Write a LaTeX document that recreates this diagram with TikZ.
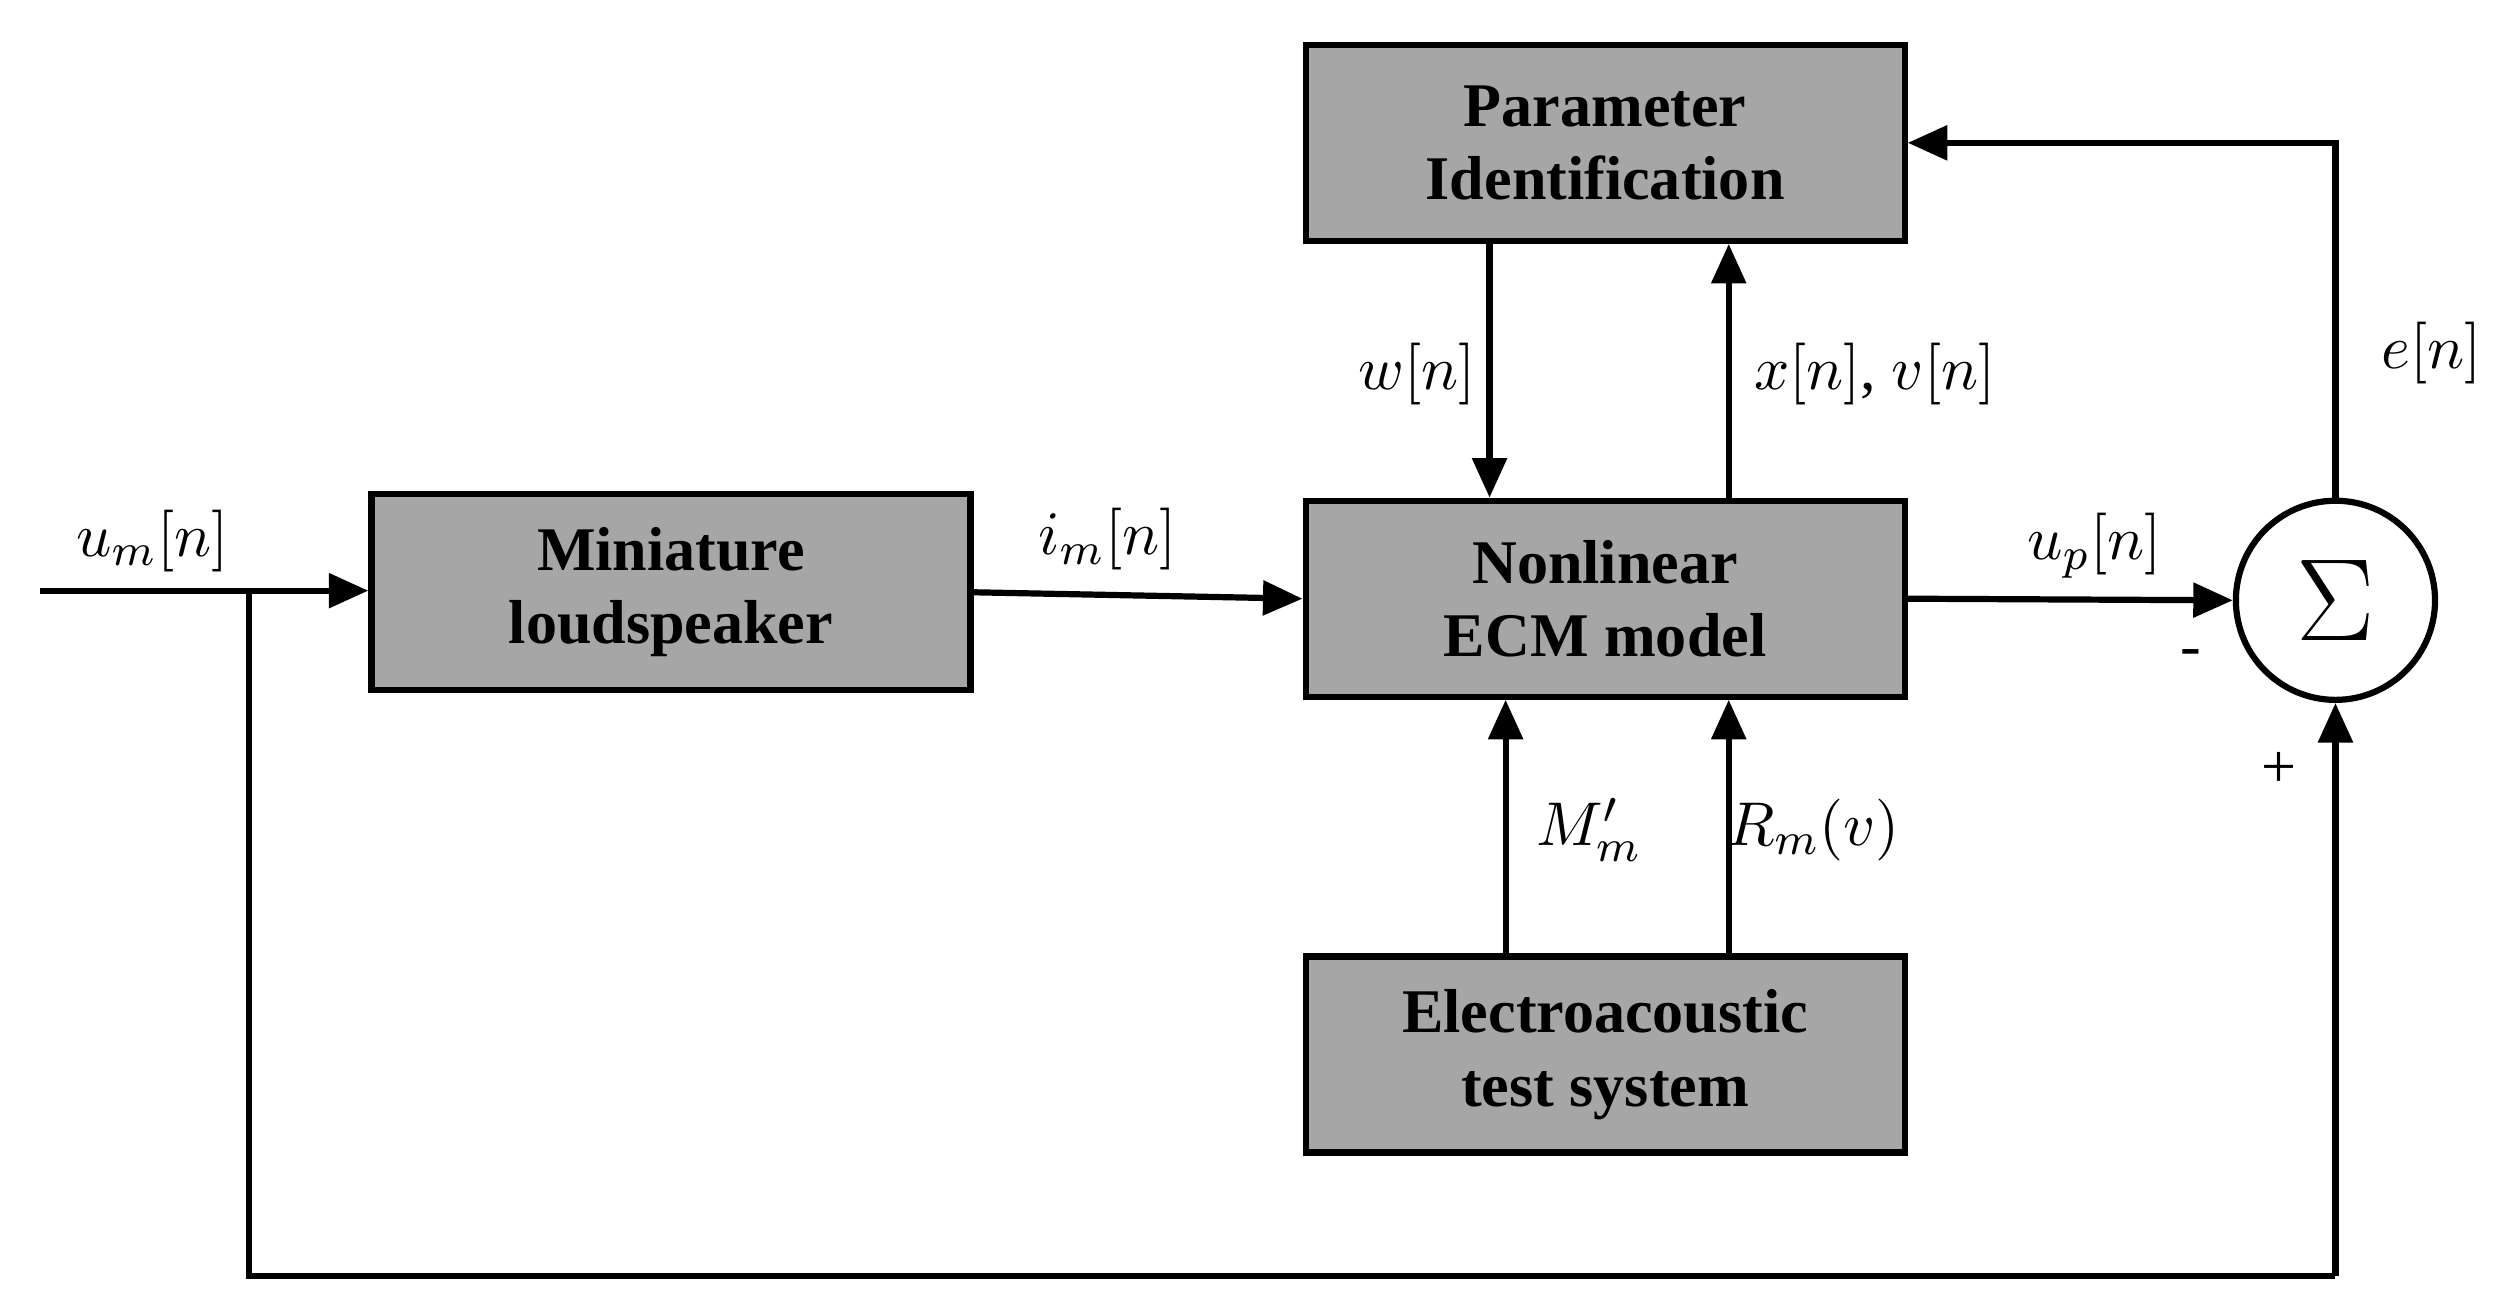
\documentclass[tikz,border=0pt]{standalone}
\usepackage{fontspec}
\setmainfont{Liberation Serif}
\usetikzlibrary{arrows.meta}
\begin{document}
\begin{tikzpicture}[x=0.01cm,y=-0.01cm,
  box/.style={draw, line width=1.1pt, fill=black!35, minimum width=3.73cm, minimum height=1.22cm, align=center, font=\fontsize{11}{13}\selectfont\bfseries},
  arrow/.style={line width=1.1pt, -{Triangle[length=7pt,width=6pt]}},
  line/.style={line width=1.1pt},
  lbl/.style={font=\fontsize{11}{13}\selectfont}]
\useasboundingbox (0,0) rectangle (1560,816);
\node[box] (pid) at (1000,89) {Parameter\\Identification};
\node[box] (mini) at (418,369) {Miniature\\loudspeaker};
\node[box] (ecm) at (1000,373) {Nonlinear\\ECM model};
\node[box] (test) at (1000,657) {Electroacoustic\\test system};
\node[draw, circle, line width=1.1pt, minimum size=1.24cm, inner sep=0pt, font=\fontsize{22}{22}\selectfont] (sum) at (1455,374) {$\Sigma$};
\coordinate (in) at (25,368);
\coordinate (br) at (155,368);
\draw[arrow] (in) -- (mini.west |- in);
\draw[line] (br) -- (155,795) -- (sum.south |- 0,795);
\draw[arrow] (sum.south |- 0,795) -- (sum.south);
\draw[arrow] (mini.east) -- (ecm.west);
\draw[arrow] (ecm.east) -- (sum.west);
\draw[arrow] (sum.north) -- (sum.north |- pid.east) -- (pid.east);
\draw[arrow] (pid.south -| 928,0) -- (ecm.north -| 928,0);
\draw[arrow] (ecm.north -| 1077,0) -- (pid.south -| 1077,0);
\draw[arrow] (test.north -| 938,0) -- (ecm.south -| 938,0);
\draw[arrow] (test.north -| 1077,0) -- (ecm.south -| 1077,0);
\node[lbl] (l1) at (95,337) {$u_m[n]$};
\node[lbl] (l2) at (690,336) {$i_m[n]$};
\node[lbl] (l3) at (1305,340) {$u_p[n]$};
\node[lbl] (l4) at (1515,220) {$e[n]$};
\node[lbl] (l5) at (883,233) {$w[n]$};
\node[lbl] (l6) at (1168,233) {$x[n]$, $v[n]$};
\node[lbl] (l7) at (990,517) {$M'_m$};
\node[lbl] (l8) at (1130,517) {$R_m(v)$};
\node[lbl] (l9) at (1365,410) {-};
\node[lbl] (l10) at (1420,480) {+};
\end{tikzpicture}
\end{document}
